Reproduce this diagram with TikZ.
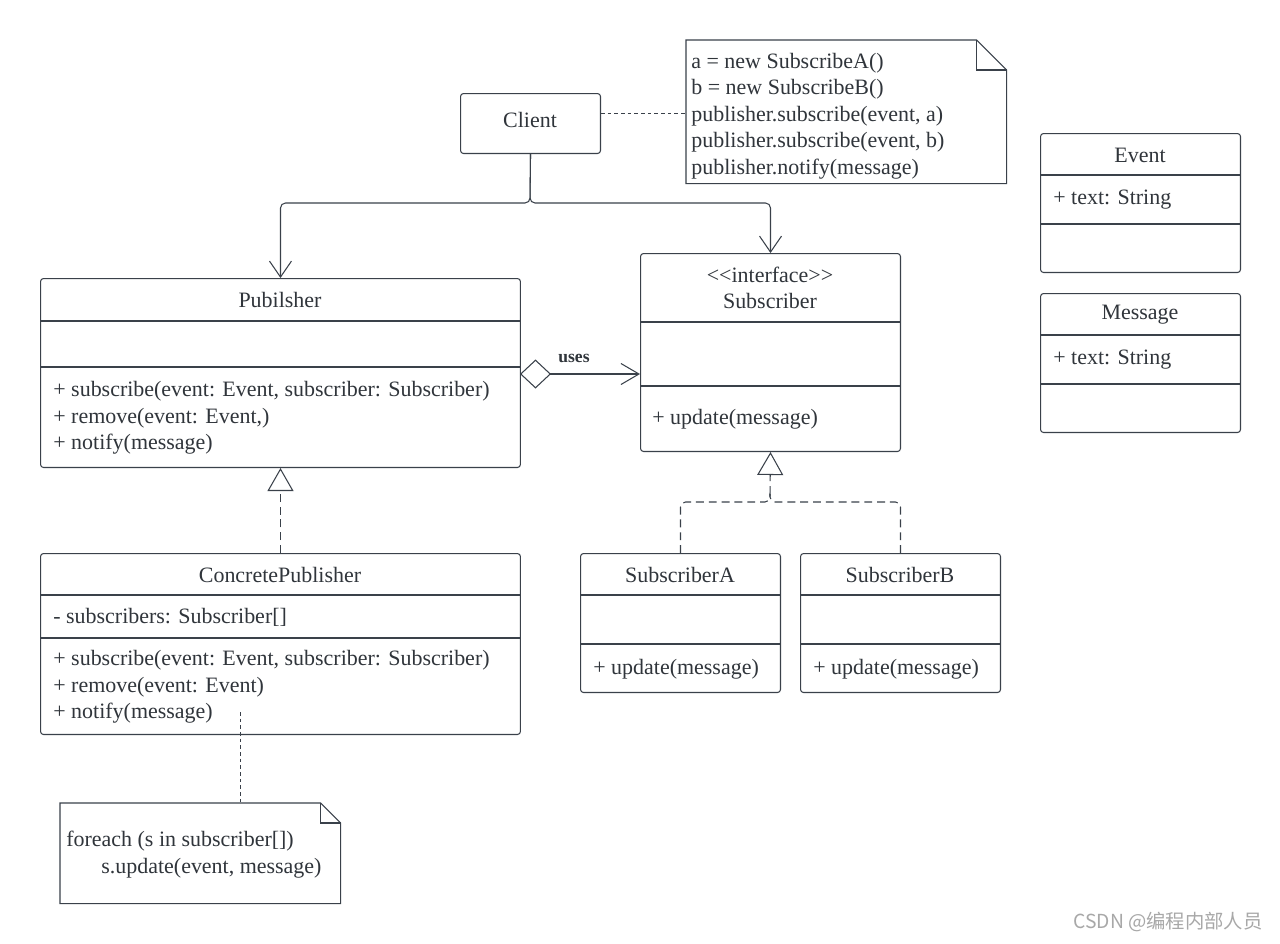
\documentclass[tikz,border=0pt]{standalone}
\usepackage{fontspec}
\setmainfont{Liberation Serif}
\newfontfamily\cjkfont{Noto Sans CJK SC}
\usetikzlibrary{arrows.meta,calc}
\definecolor{linec}{HTML}{3A414A}
\definecolor{txtc}{HTML}{30353B}
\definecolor{wmc}{HTML}{A8A8A8}
\begin{document}
\begin{tikzpicture}[x=0.02cm,y=-0.02cm,
  ln/.style={draw=linec, line width=0.6pt},
  box/.style={ln, rounded corners=0.06cm, anchor=north west, inner sep=0pt},
  ghost/.style={anchor=north west, inner sep=0pt},
  t/.style={text=txtc, font=\fontsize{12.5}{15}\selectfont, inner sep=0pt, yshift=-0.06cm},
  tl/.style={t, anchor=west},
  conn/.style={ln, rounded corners=0.1cm},
  barb/.style={-{Straight Barb[length=0.32cm,width=0.44cm]}},
  dsh/.style={dash pattern=on 4.5pt off 2.8pt},
  dotl/.style={ln, line width=0.5pt, dash pattern=on 2pt off 1.8pt},
  real/.style={-{Triangle[open,length=0.46cm,width=0.52cm]}}
]
\useasboundingbox[fill=white] (0,0) rectangle (1280,943);

% Client
\node[box, minimum width=2.8cm, minimum height=1.2cm] (client) at (460,93) {};
\node[t] (clientt) at (530,117) {Client};

% Note 1
\node[ghost, minimum width=6.4cm, minimum height=2.86cm] (note1) at (686,40) {};
\draw[ln] (note1.north west) -- ($(note1.north east)+(-30,0)$) -- ($(note1.north east)+(0,30)$) -- (note1.south east) -- (note1.south west) -- cycle;
\draw[ln] ($(note1.north east)+(-30,0)$) -- ($(note1.north east)+(-30,30)$) -- ($(note1.north east)+(0,30)$);
\node[tl] (n1a) at (691,60) {a = new SubscribeA()};
\node[tl] (n1b) at (691,86) {b = new SubscribeB()};
\node[tl] (n1c) at (691,113) {publisher.subscribe(event, a)};
\node[tl] (n1d) at (691,139) {publisher.subscribe(event, b)};
\node[tl] (n1e) at (691,166) {publisher.notify(message)};
\coordinate (c1) at ($(client.east)+(0,-10)$);
\draw[dotl] (c1) -- (c1 -| note1.west);

% Publisher
\node[box, minimum width=9.6cm, minimum height=3.78cm] (pub) at (40,278) {};
\draw[ln] (40,321) -- (520,321);
\draw[ln] (40,367) -- (520,367);
\node[t] (pubt) at (280,297) {Pubilsher};
\node[tl] (pm1) at (53,388) {+ subscribe(event: Event, subscriber: Subscriber)};
\node[tl] (pm2) at (53,415) {+ remove(event: Event,)};
\node[tl] (pm3) at (53,441) {+ notify(message)};

% Subscriber
\node[box, minimum width=5.2cm, minimum height=3.96cm] (sub) at (640,253) {};
\draw[ln] (640,322) -- (900,322);
\draw[ln] (640,386) -- (900,386);
\node[t] (subi) at (770,272) {<\kern0pt<interface>\kern0pt>};
\node[t] (subt) at (770,298) {Subscriber};
\node[tl] (sm1) at (652,416) {+ update(message)};

% ConcretePublisher
\node[box, minimum width=9.6cm, minimum height=3.62cm] (cpub) at (40,553) {};
\draw[ln] (40,595) -- (520,595);
\draw[ln] (40,638) -- (520,638);
\node[t] (cpubt) at (280,572) {ConcretePublisher};
\node[tl] (ca1) at (53,614) {- subscribers: Subscriber[]};
\node[tl] (cm1) at (53,657) {+ subscribe(event: Event, subscriber: Subscriber)};
\node[tl] (cm2) at (53,684) {+ remove(event: Event)};
\node[tl] (cm3) at (53,710) {+ notify(message)};

% SubscriberA / B
\node[box, minimum width=4cm, minimum height=2.78cm] (subA) at (580,553) {};
\draw[ln] (580,595) -- (780,595);
\draw[ln] (580,644) -- (780,644);
\node[t] (subAt) at (680,572) {SubscriberA};
\node[tl] (subAm) at (593,666) {+ update(message)};
\node[box, minimum width=4cm, minimum height=2.78cm] (subB) at (800,553) {};
\draw[ln] (800,595) -- (1000,595);
\draw[ln] (800,644) -- (1000,644);
\node[t] (subBt) at (900,572) {SubscriberB};
\node[tl] (subBm) at (813,666) {+ update(message)};

% Event / Message
\node[box, minimum width=4cm, minimum height=2.78cm] (event) at (1040,133) {};
\draw[ln] (1040,175) -- (1240,175);
\draw[ln] (1040,224) -- (1240,224);
\node[t] (eventt) at (1140,152) {Event};
\node[tl] (eventa) at (1053,197) {+ text: String};
\node[box, minimum width=4cm, minimum height=2.78cm] (msg) at (1040,293) {};
\draw[ln] (1040,335) -- (1240,335);
\draw[ln] (1040,384) -- (1240,384);
\node[t] (msgt) at (1140,312) {Message};
\node[tl] (msga) at (1053,357) {+ text: String};

% Note 2
\node[ghost, minimum width=5.6cm, minimum height=2cm] (note2) at (60,803) {};
\draw[ln] (note2.north west) -- ($(note2.north east)+(-20,0)$) -- ($(note2.north east)+(0,20)$) -- (note2.south east) -- (note2.south west) -- cycle;
\draw[ln] ($(note2.north east)+(-20,0)$) -- ($(note2.north east)+(-20,20)$) -- ($(note2.north east)+(0,20)$);
\node[tl] (n2a) at (66,838) {foreach (s in subscriber[])};
\node[tl] (n2b) at (101,865) {s.update(event, message)};
\coordinate (dn) at (240,712);
\draw[dotl] (dn) -- (dn |- note2.north);

% Client associations
\coordinate (j1) at (530,203);
\draw[conn, barb] (client.south) -- (j1) -| (pub.north);
\draw[conn, barb] (client.south) -- (j1) -| (sub.north);

% uses (aggregation)
\coordinate (u1) at (520,374);
\draw[ln, {Diamond[open,length=0.62cm,width=0.58cm]}-{Straight Barb[length=0.36cm,width=0.42cm]}] (u1) -- (u1 -| sub.west)
  node[pos=0.45, above=6pt, font=\bfseries\fontsize{10}{12}\selectfont, text=txtc, inner sep=0pt] (usesl) {uses};

% Realizations
\draw[ln, dsh, real] (cpub.north) -- (pub.south);
\coordinate (jr) at (770,502);
\coordinate (jt) at (770,494);
\draw[conn, dsh] (subA.north) |- (jr) -- (jt);
\draw[conn, dsh] (subB.north) |- (jr) -- (jt);
\draw[ln, dsh, real] (jt) -- (sub.south);

% watermark
\node[font=\cjkfont\fontsize{11}{13}\selectfont, text=wmc, inner sep=0pt] (wm) at (1168,922) {CSDN @编程内部人员};
\end{tikzpicture}
\end{document}
